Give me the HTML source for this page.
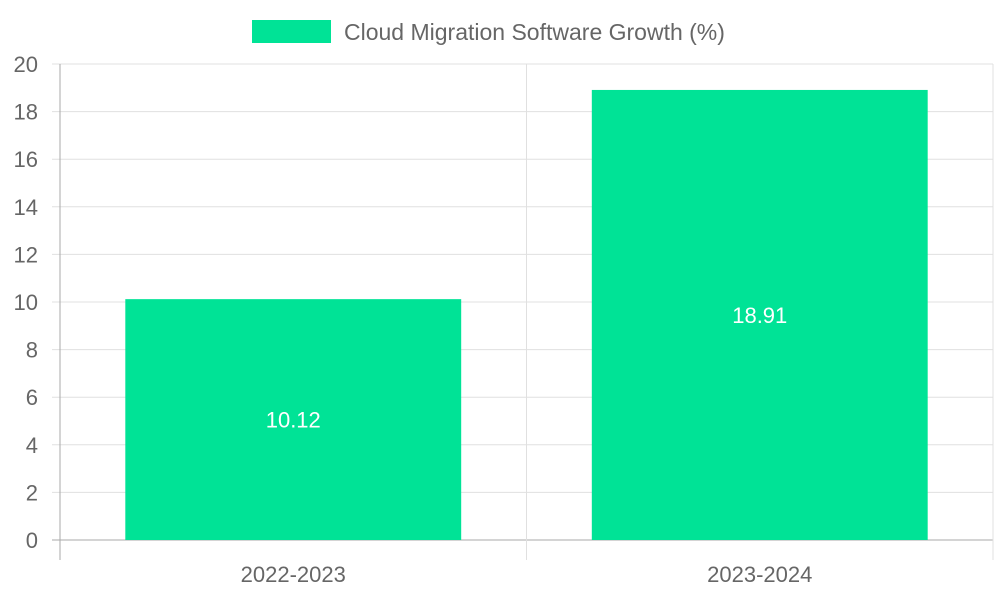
<!DOCTYPE html>
<html><head><meta charset="utf-8"><style>
html,body{margin:0;padding:0;background:#fff;}
svg text{font-family:"Liberation Sans",sans-serif;}
</style></head><body>
<svg id="chart" width="1000" height="600" xmlns="http://www.w3.org/2000/svg">
<g id="legend">
<rect x="252" y="20" width="79" height="23" fill="#00e396"/>
<text x="344" y="40" font-size="23" fill="#666">Cloud Migration Software Growth (%)</text>
</g>
<g id="grid"></g><g id="bars"></g><g id="labels"></g>
</svg>
<script>
const categories=["2022-2023","2023-2024"];
const values=[10.12,18.91];
const yTicks=[0,2,4,6,8,10,12,14,16,18,20];
const NS="http://www.w3.org/2000/svg";
const L=60,R=993,T=64,B=540,yMax=20;
const y=v=>B-(v/yMax)*(B-T);
const cw=(R-L)/categories.length;
const x=i=>L+cw*i;
function mk(tag,attrs,parent){const e=document.createElementNS(NS,tag);for(const k in attrs)e.setAttribute(k,attrs[k]);parent.appendChild(e);return e;}
const grid=document.getElementById('grid'),bars=document.getElementById('bars'),labels=document.getElementById('labels');
yTicks.forEach(t=>{
 const ln=mk('line',{x1:52,x2:R,y1:y(t),y2:y(t),stroke:t===0?'#aaa':'#e0e0e0','stroke-width':1},grid);
 
 
 const tx=mk('text',{x:38,y:y(t)+8,'text-anchor':'end','font-size':22,fill:'#666'},grid);
 tx.textContent=t;
 
 
});
for(let i=0;i<=categories.length;i++){
 const ln=mk('line',{x1:x(i),x2:x(i),y1:T,y2:560,stroke:i===0?'#aaa':'#e0e0e0','stroke-width':1},grid);
 
 
}
categories.forEach((c,i)=>{
 const bw=cw*0.72,bx=x(i)+(cw-bw)/2,v=values[i];
 const r=mk('rect',{x:bx,y:y(v),width:bw,height:B-y(v),fill:'#00e396'},bars);
 
 
 const vt=mk('text',{x:bx+bw/2,y:(y(v)+B)/2+8,'text-anchor':'middle','font-size':22,fill:'#fff'},labels);
 vt.textContent=v.toFixed(2);
 
 
 const xt=mk('text',{x:x(i)+cw/2,y:582,'text-anchor':'middle','font-size':22,fill:'#666'},labels);
 xt.textContent=c;
 
 
});
</script>
</body></html>
